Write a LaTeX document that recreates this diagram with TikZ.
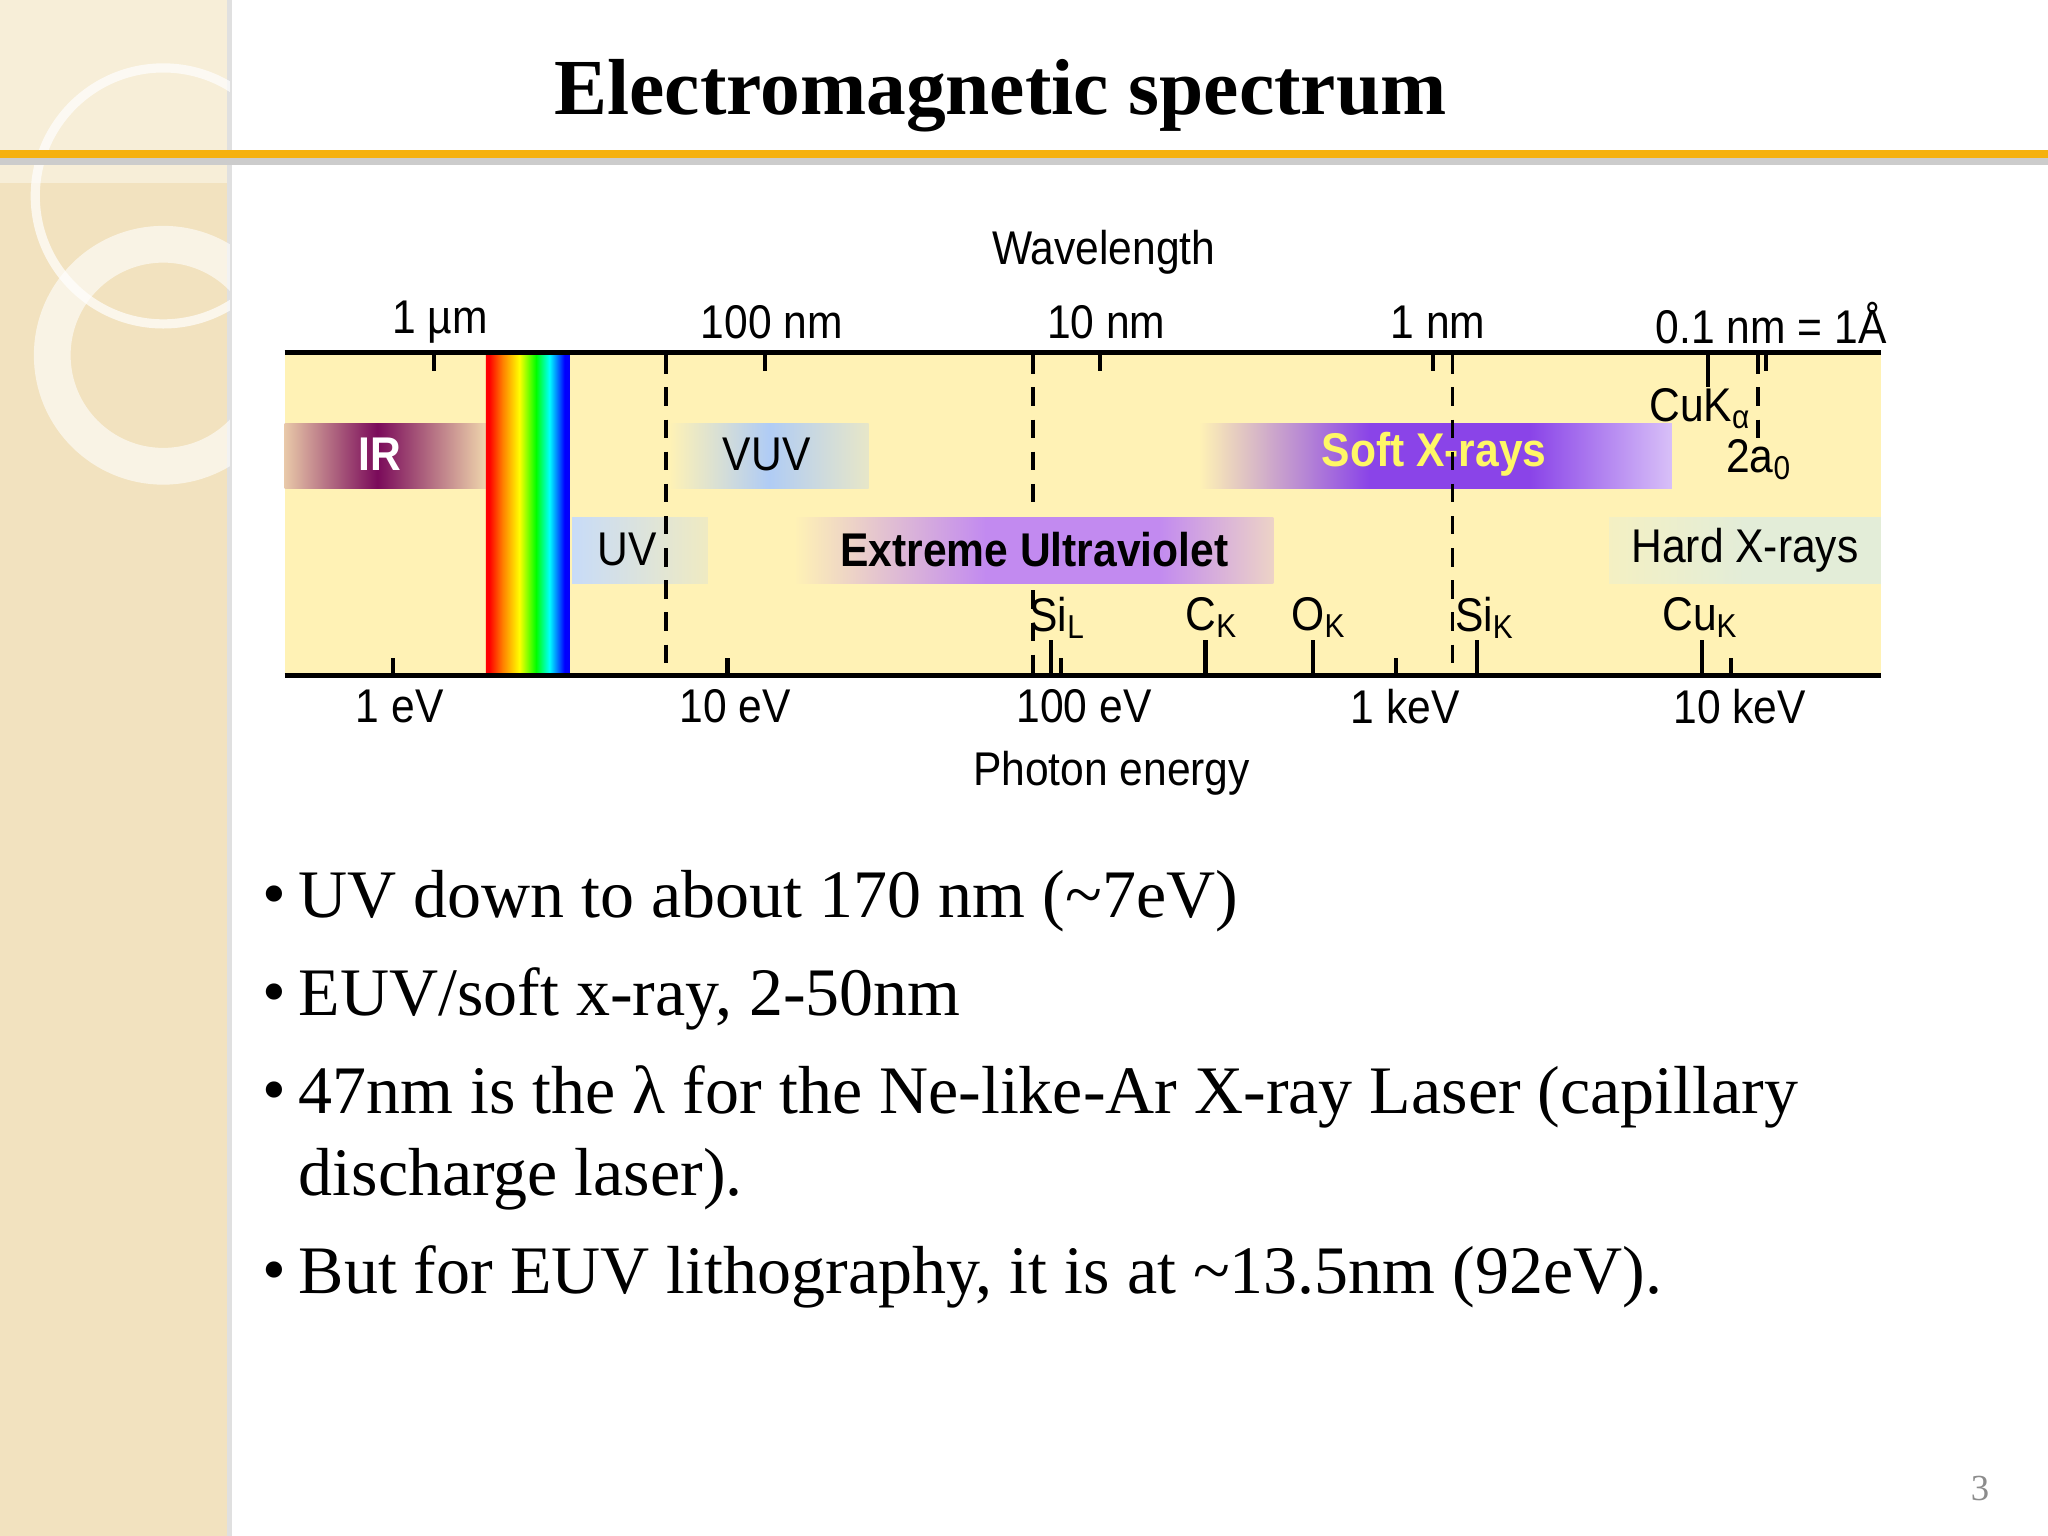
\documentclass[tikz,border=0pt]{standalone}
\usepackage{fontspec}
\setmainfont{Liberation Serif}
\newfontfamily\diag[FakeStretch=0.9]{Liberation Sans}
\definecolor{strip}{HTML}{F2E2BF}
\definecolor{bandyel}{HTML}{FFF2B5}
\definecolor{orangeline}{HTML}{F5B10F}
\definecolor{irp}{HTML}{7A0A5A}
\definecolor{irl}{HTML}{E8C8A8}
\definecolor{sxp}{HTML}{8A44E8}
\definecolor{sxl}{HTML}{D8C0F8}
\definecolor{euvp}{HTML}{C28AF0}
\definecolor{vuvb}{HTML}{B0CCF5}
\definecolor{hxb}{HTML}{E3EDD8}
\pgfdeclarehorizontalshading{rainbow}{100bp}{color(0bp)=(red);color(27bp)=(red);color(35bp)=(orange);color(45bp)=(yellow);color(55bp)=(green);color(63bp)=(cyan);color(72bp)=(blue);color(100bp)=(blue!70!violet)}
\pgfdeclarehorizontalshading{irsh}{100bp}{color(0bp)=(irl);color(25bp)=(irl);color(48bp)=(irp);color(75bp)=(irl!70!bandyel);color(100bp)=(bandyel)}
\pgfdeclarehorizontalshading{vuvsh}{100bp}{color(0bp)=(bandyel);color(25bp)=(bandyel);color(50bp)=(vuvb);color(75bp)=(vuvb!30!bandyel);color(100bp)=(vuvb!30!bandyel)}
\pgfdeclarehorizontalshading{sxsh}{100bp}{color(0bp)=(bandyel);color(25bp)=(bandyel);color(43bp)=(sxp);color(60bp)=(sxp);color(75bp)=(sxl);color(100bp)=(sxl)}
\pgfdeclarehorizontalshading{uvsh}{100bp}{color(0bp)=(vuvb!70!white);color(25bp)=(vuvb!70!white);color(75bp)=(vuvb!20!bandyel);color(100bp)=(vuvb!20!bandyel)}
\pgfdeclarehorizontalshading{euvsh}{100bp}{color(0bp)=(bandyel);color(25bp)=(bandyel);color(45bp)=(euvp);color(63bp)=(euvp);color(75bp)=(euvp!30!bandyel);color(100bp)=(euvp!30!bandyel)}
\pgfdeclarehorizontalshading{hxsh}{100bp}{color(0bp)=(hxb!40!bandyel);color(25bp)=(hxb!40!bandyel);color(50bp)=(hxb);color(100bp)=(hxb)}
\tikzset{
  lbl/.style={font=\diag\fontsize{10.3}{12}\selectfont, inner sep=0pt},
  blbl/.style={font=\diag\bfseries\fontsize{10.3}{12}\selectfont, inner sep=0pt},
  axl/.style={line width=1.2pt},
  tick/.style={line width=0.9pt},
  dsh/.style={line width=0.8pt, dash pattern=on 4pt off 3pt},
  bul/.style={font=\fontsize{14.8}{17}\selectfont, anchor=west, inner sep=0pt},
}
\begin{document}
\begin{tikzpicture}[x=0.01cm,y=-0.01cm]
\useasboundingbox (0,0) rectangle (1568,1176);
\fill[white] (0,0) rectangle (1568,1176);
% left strip
\fill[strip] (0,0) rectangle (174,1176);
\fill[strip!60!white] (0,0) rectangle (174,140);
\fill[black!12] (174,0) rectangle (178,1176);
\begin{scope}
\clip (0,0) rectangle (176,1176);
\draw[white, opacity=0.7, line width=2pt] (125,150) circle (98);
\draw[white, opacity=0.6, line width=8pt] (125,272) circle (85);
\end{scope}
% title line
\fill[black!20] (0,121) rectangle (1568,126);
\fill[orangeline] (0,115) rectangle (1568,121);
\node[font=\bfseries\fontsize{17.3}{20}\selectfont] (title) at (766,73) {Electromagnetic spectrum};
% diagram background
\fill[bandyel] (218,270) rectangle (1440,517);
% bands
\shade[shading=irsh] (218,324) rectangle (372,374);
\node[blbl, white] (ir) at (291,348) {IR};
\shade[shading=vuvsh] (512,324) rectangle (665,374);
\node[lbl] (vuv) at (587,348) {VUV};
\shade[shading=sxsh] (918,324) rectangle (1280,374);
\node[blbl, yellow!60!white] (sx) at (1098,348) {Soft X-rays};
\shade[shading=uvsh] (438,396) rectangle (542,447);
\node[lbl] (uv) at (480,421) {UV};
\shade[shading=euvsh] (608,396) rectangle (975,447);
\node[blbl] (euv) at (792,421) {Extreme Ultraviolet};
\shade[shading=hxsh] (1232,396) rectangle (1440,447);
\node[lbl] (hx) at (1336,421) {Hard X-rays};
% rainbow
\shade[shading=rainbow] (372,270) rectangle (436,517);
% dashed lines
\draw[dsh] (510,272) -- (510,515);
\draw[dsh] (791,272) -- (791,392);
\draw[dsh] (791,452) -- (791,515);
\draw[dsh] (1112,272) -- (1112,515);
\draw[dsh] (1346,272) -- (1346,340);
% axes
\draw[axl] (218,270) -- (1440,270);
\draw[axl] (218,517) -- (1440,517);
\foreach \x in {332,586,842,1097,1352} \draw[tick] (\x,270) -- (\x,284);
\draw[tick] (1308,270) -- (1308,296);
\foreach \x in {301,557,812,1069,1325} \draw[tick] (\x,517) -- (\x,504);
\foreach \x in {805,923,1005,1131,1303} \draw[tick] (\x,517) -- (\x,490);
% top labels
\node[lbl] (wl) at (845,193) {Wavelength};
\node[lbl] (t1) at (337,247) {1 µm};
\node[lbl] (t2) at (591,247) {100 nm};
\node[lbl] (t3) at (847,247) {10 nm};
\node[lbl] (t4) at (1101,247) {1 nm};
\node[lbl] (t5) at (1356,247) {0.1 nm = 1Å};
% bottom labels
\node[lbl] (b1) at (306,541) {1 eV};
\node[lbl] (b2) at (563,541) {10 eV};
\node[lbl] (b3) at (830,541) {100 eV};
\node[lbl] (b4) at (1076,541) {1 keV};
\node[lbl] (b5) at (1332,541) {10 keV};
\node[lbl] (pe) at (851,592) {Photon energy};
% element labels
\node[lbl] (cuka) at (1302,313) {CuK\textsubscript{α}};
\node[lbl] (a0) at (1347,352) {2a\textsubscript{0}};
\node[lbl] (sil) at (810,473) {Si\textsubscript{L}};
\node[lbl] (ck) at (928,473) {C\textsubscript{K}};
\node[lbl] (ok) at (1010,473) {O\textsubscript{K}};
\node[lbl] (sik) at (1137,473) {Si\textsubscript{K}};
\node[lbl] (cuk) at (1302,473) {Cu\textsubscript{K}};
% bullets
\foreach \y/\t in {690/{UV down to about 170 nm (\char"007E 7eV)}, 765/{EUV/soft x-ray, 2-50nm}, 840/{47nm is the λ for the Ne-like-Ar X-ray Laser (capillary}, 978/{But for EUV lithography, it is at \char"007E 13.5nm (92eV).}}{
  \node[bul] at (200,\y) {•};
  \node[bul] at (228,\y) {\t};
}
\node[bul] (b3b) at (228,903) {discharge laser).};
\node[font=\fontsize{8}{9}\selectfont, black!45] (pg) at (1516,1140) {3};
\end{tikzpicture}
\end{document}
